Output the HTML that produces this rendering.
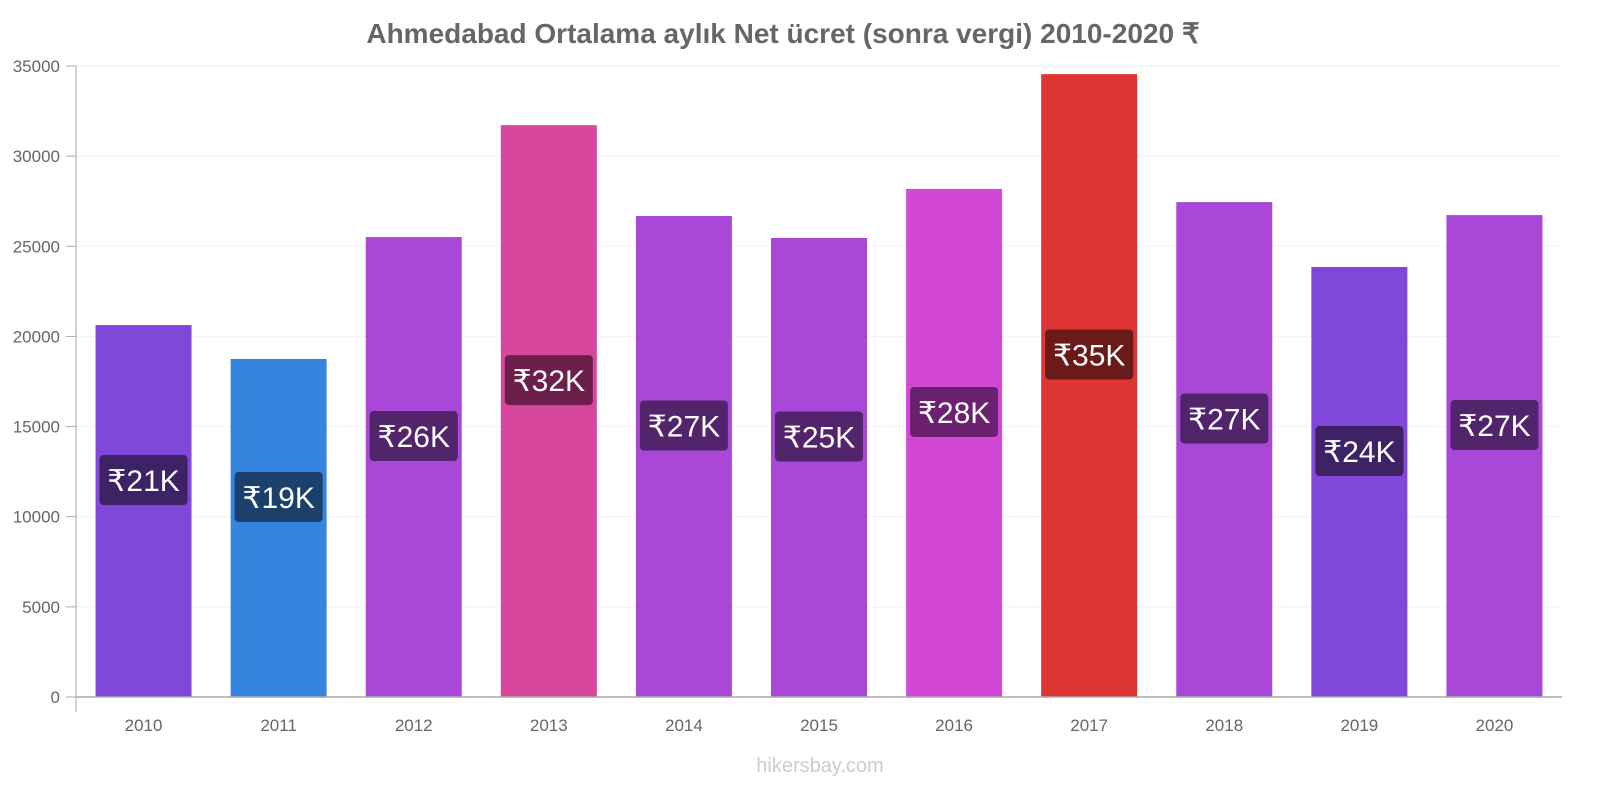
<!DOCTYPE html>
<html><head><meta charset="utf-8"><style>
html,body{margin:0;padding:0;background:#fff;font-family:"Liberation Sans",sans-serif;overflow:hidden;width:1600px;height:800px}
svg{display:block}
</style></head><body>
<svg width="1600" height="800" id="c">
<text x="783" y="43" text-anchor="middle" font-size="28" font-weight="bold" fill="#666">Ahmedabad Ortalama aylık Net ücret (sonra vergi) 2010-2020 ₹</text>
<text x="820" y="772" text-anchor="middle" font-size="20" fill="#ccc">hikersbay.com</text>
</svg>
<script>
const categories=["2010","2011","2012","2013","2014","2015","2016","2017","2018","2019","2020"];
const values=[20630,18750,25510,31720,26680,25460,28180,34550,27450,23850,26730];
const labels=["₹21K","₹19K","₹26K","₹32K","₹27K","₹25K","₹28K","₹35K","₹27K","₹24K","₹27K"];
const yTicks=[0,5000,10000,15000,20000,25000,30000,35000];
const colors=["#8047d8","#3584e0","#a847d8","#d6479d","#a847d8","#a847d8","#d447d6","#e03535","#a847d8","#8047d8","#a847d8"];
const labelBg=["#3d2266","#1a406b","#52246b","#6b1f4a","#52246b","#52246b","#6b2170","#6b1a1a","#52246b","#3d2266","#52246b"];
const svg=document.getElementById('c');const NS="http://www.w3.org/2000/svg";
const x0=76,x1=1562,yBase=697,yTop=66,yMax=35000;
const y=v=>yBase-(v/yMax)*(yBase-yTop);
const step=(x1-x0)/categories.length;
const xc=i=>x0+step*(i+0.5);
function mk(t,a){const e=document.createElementNS(NS,t);for(const k in a)e.setAttribute(k,a[k]);svg.appendChild(e);return e;}
yTicks.forEach(t=>{
 const g=mk('line',{x1:x0,x2:x1,y1:y(t),y2:y(t),stroke:'#f2f2f2'});
 
 
 const tk=mk('line',{x1:x0-10,x2:x0,y1:y(t),y2:y(t),stroke:'#aaa'});
 
 
 const l=mk('text',{x:x0-16,y:y(t)+6,'text-anchor':'end','font-size':17,fill:'#666'});l.textContent=t;
 
 
});
categories.forEach((c,i)=>{
 const top=y(values[i]);
 const r=mk('rect',{x:xc(i)-48,y:top,width:96,height:yBase-top,fill:colors[i]});
 
 
 const cy=(top+yBase)/2-31;
 const b=mk('rect',{x:xc(i)-44,y:cy-25,width:88,height:50,rx:4,fill:labelBg[i]});
 
 
 const t=mk('text',{x:xc(i),y:cy+11,'text-anchor':'middle','font-size':30,fill:'#fff'});t.textContent=labels[i];
 
 
 const xl=mk('text',{x:xc(i),y:731,'text-anchor':'middle','font-size':17,fill:'#666'});xl.textContent=c;
 
 
});
const ax=mk('line',{x1:x0,x2:x0,y1:yTop,y2:712,stroke:'#aaa'});


const bx=mk('line',{x1:x0,x2:x1,y1:yBase,y2:yBase,stroke:'#aaa','stroke-width':1.5});


</script>
</body></html>
